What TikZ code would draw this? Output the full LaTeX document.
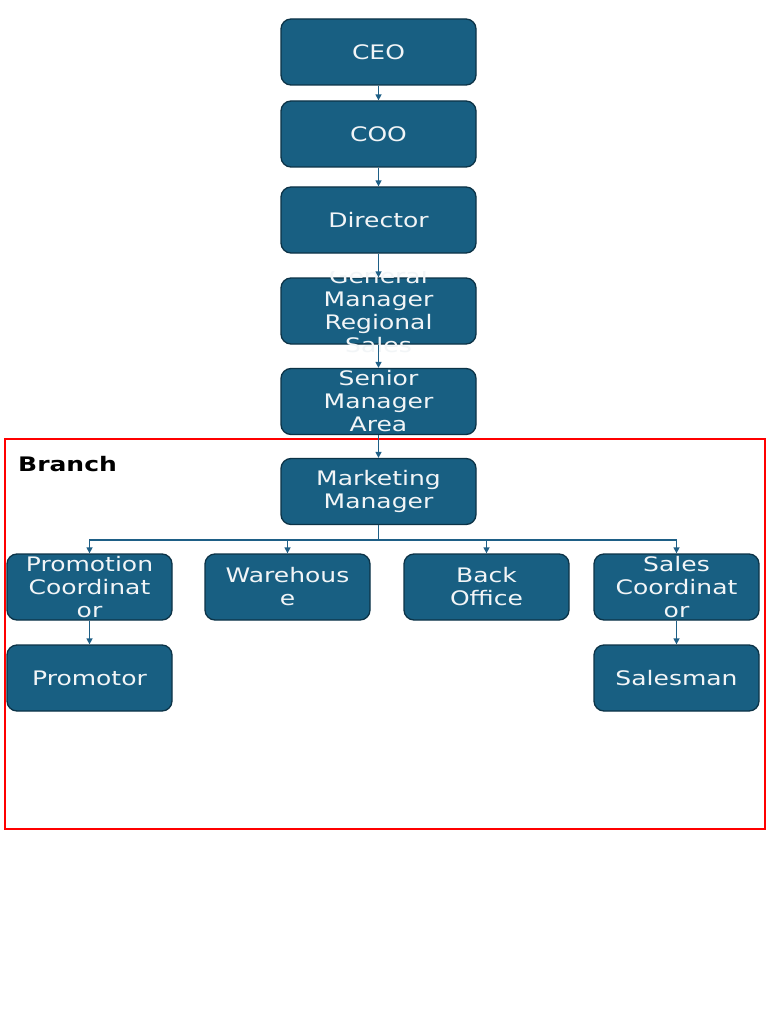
\documentclass[tikz,border=0pt]{standalone}
\usepackage{fontspec}
\usetikzlibrary{arrows.meta}
\newfontfamily\boxfont[FakeStretch=1.25]{DejaVu Sans}
\definecolor{boxfill}{HTML}{185F82}
\definecolor{boxline}{HTML}{0C3347}
\definecolor{conn}{HTML}{1E5F86}
\definecolor{txt}{HTML}{F2F5F7}
\begin{document}
\begin{tikzpicture}[x=1pt,y=-1pt,
  orgbox/.style={draw=boxline, line width=1.3pt, fill=boxfill, rounded corners=10pt,
    minimum width=195pt, minimum height=66pt, inner sep=0pt, text=txt, align=center,
    font=\boxfont\fontsize{20}{23}\selectfont},
  smallbox/.style={orgbox, minimum width=165pt},
  arr/.style={draw=conn, line width=1.4pt, -{Triangle[length=6pt,width=6pt]}}]
\useasboundingbox (0,0) rectangle (768,1024);
\fill[white] (0,0) rectangle (768,1024);

\node[orgbox] (ceo) at (378.5,52) {CEO};
\node[orgbox] (coo) at (378.5,134) {COO};
\node[orgbox] (dir) at (378.5,220) {Director};
\node[orgbox] (gm) at (378.5,311) {};
\begin{scope}
\clip (270,271) rectangle (490,352);
\node[text=txt, align=center, font=\boxfont\fontsize{20}{23}\selectfont] (gmtext) at (378.5,311) {General\\Manager\\Regional\\Sales};
\end{scope}
\node[orgbox] (sm) at (378.5,401.5) {Senior\\Manager\\Area};
\node[orgbox] (mm) at (378.5,491.5) {Marketing\\Manager};

\node[smallbox] (pc) at (89.5,587) {Promotion\\Coordinat\\or};
\node[smallbox] (wh) at (287.5,587) {Warehous\\e};
\node[smallbox] (bo) at (486.5,587) {Back\\Office};
\node[smallbox] (sc) at (676.5,587) {Sales\\Coordinat\\or};
\node[smallbox] (pr) at (89.5,678) {Promotor};
\node[smallbox] (sa) at (676.5,678) {Salesman};

\draw[red, line width=1.3pt] (5,439) rectangle (765,829);
\node[anchor=west, font=\boxfont\bfseries\fontsize{20}{23}\selectfont, inner sep=0pt] (branch) at (18,464) {Branch};

\draw[arr] (ceo.south) -- (coo.north);
\draw[arr] (coo.south) -- (dir.north);
\draw[arr] (dir.south) -- (gm.north);
\draw[arr] (gm.south) -- (sm.north);
\draw[arr] (sm.south) -- (mm.north);

\coordinate (bus) at (378.5,540);
\draw[arr] (mm.south) -- (bus) -| (pc.north);
\draw[arr] (mm.south) -- (bus) -| (wh.north);
\draw[arr] (mm.south) -- (bus) -| (bo.north);
\draw[arr] (mm.south) -- (bus) -| (sc.north);
\draw[arr] (pc.south) -- (pr.north);
\draw[arr] (sc.south) -- (sa.north);
\end{tikzpicture}
\end{document}
